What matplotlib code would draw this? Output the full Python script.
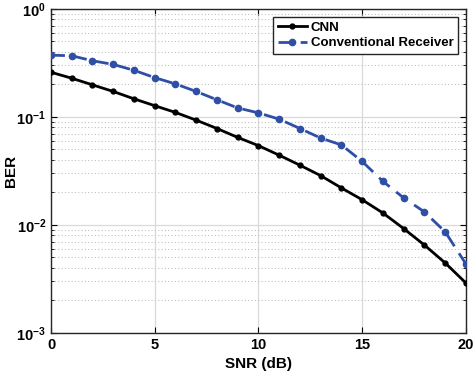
import numpy as np
import matplotlib
matplotlib.use("Agg")
import matplotlib.pyplot as plt
from matplotlib.ticker import LogLocator, NullFormatter

plt.rcParams['font.family'] = ['Liberation Sans', 'DejaVu Sans']
plt.rcParams['font.weight'] = 'bold'
plt.rcParams['mathtext.default'] = 'bf'

snr = list(range(0, 21))
ber_cnn = [0.259, 0.228, 0.198, 0.172, 0.147, 0.127, 0.110, 0.0933, 0.0781, 0.0646,
           0.0542, 0.0442, 0.0357, 0.0286, 0.0220, 0.0171, 0.0129, 0.00925, 0.00651,
           0.00445, 0.00290]
ber_conv = [0.373, 0.368, 0.331, 0.306, 0.270, 0.231, 0.202, 0.172, 0.144, 0.121,
            0.109, 0.0953, 0.0781, 0.0637, 0.0550, 0.0387, 0.0253, 0.0178, 0.0132,
            0.00863, 0.00435]

fig = plt.figure(figsize=(4.74, 3.76), dpi=100)
ax = fig.add_axes([0.1076, 0.1144, 0.8754, 0.862])

ax.semilogy(snr, ber_cnn, "-", color="black", linewidth=2, marker="o",
            markersize=3.5, label="CNN", zorder=3)
ax.semilogy(snr, ber_conv, "--", color="#2f4fa6", linewidth=2, marker="o",
            markersize=4.5, dashes=(5, 3), label="Conventional Receiver", zorder=3)

ax.set_xlim(0, 20)
ax.set_ylim(1e-3, 1)
ax.set_xticks([0, 5, 10, 15, 20])
ax.yaxis.set_major_locator(LogLocator(base=10, numticks=10))
ax.yaxis.set_minor_locator(LogLocator(base=10, subs=np.arange(2, 10), numticks=10))
ax.yaxis.set_minor_formatter(NullFormatter())

ax.grid(True, which="major", color="#d9d9d9", linewidth=0.9)
ax.grid(True, which="minor", axis="y", color="#c0c0c0", linestyle=(0, (1, 2)), linewidth=0.8)
ax.set_axisbelow(True)

ax.tick_params(which="both", direction="in", top=True, right=True, labelsize=10.5)
ax.tick_params(which="major", length=4)
ax.tick_params(which="minor", length=2.5)
for s in ax.spines.values():
    s.set_linewidth(1.0)
    s.set_color("#262626")

ax.set_xlabel("SNR (dB)", fontsize=11, fontweight="bold", labelpad=4)
ax.set_ylabel("BER", fontsize=11, fontweight="bold", labelpad=-1)

leg = ax.legend(loc="upper right", fontsize=9.5, fancybox=False, framealpha=1,
                edgecolor="#262626", handlelength=2.2, handletextpad=0.3,
                borderpad=0.35, labelspacing=0.25, borderaxespad=0.6)
leg.get_frame().set_linewidth(1.0)

fig.savefig("out.png", dpi=100)
